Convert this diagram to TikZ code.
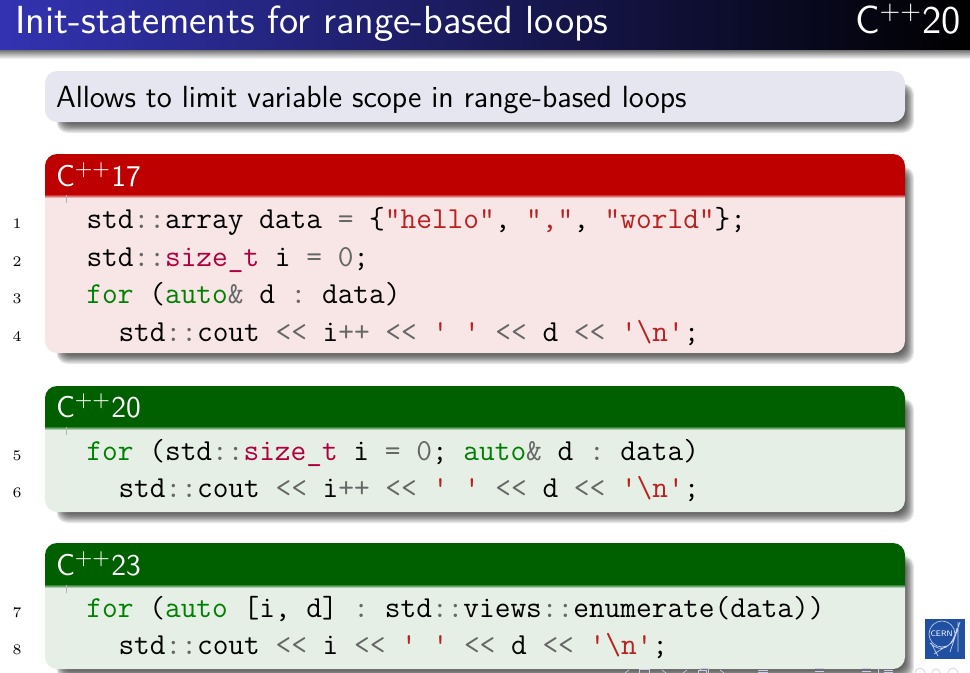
\documentclass[tikz,border=0pt]{standalone}
\definecolor{bluetitle}{RGB}{51,51,178}
\definecolor{blockbg}{RGB}{230,230,240}
\definecolor{redhead}{RGB}{191,0,0}
\definecolor{redbody}{RGB}{248,229,229}
\definecolor{greenhead}{RGB}{0,96,0}
\definecolor{greenbody}{RGB}{229,239,229}
\definecolor{kwcol}{RGB}{0,128,0}
\definecolor{tycol}{RGB}{176,0,64}
\definecolor{stcol}{RGB}{186,33,33}
\definecolor{opcol}{RGB}{102,102,102}
\definecolor{cernblue}{RGB}{33,80,162}
\definecolor{navcol}{RGB}{205,205,232}
\newcommand{\kw}[1]{\textcolor{kwcol}{#1}}
\newcommand{\ty}[1]{\textcolor{tycol}{#1}}
\newcommand{\st}[1]{\textcolor{stcol}{#1}}
\newcommand{\op}[1]{\textcolor{opcol}{#1}}
\newcommand{\cpp}[1]{C$^{++}$#1}
% shadow, then head and body of one block: y1,y2,y3, head colour, body colour
\newcommand{\blockshadow}[2]{\foreach \i in {0,1,...,9}{\fill[black,opacity=.1,rounded corners=4pt]
 (62-.6*\i,#1+18-.6*\i) rectangle (904+1.1*\i,#2+1.2*\i);}}
\newcommand{\codeblock}[5]{\blockshadow{#1}{#3}
 \fill[#5,rounded corners=4.5pt] (45,#2-8) rectangle (905,#3);
 \fill[#4,rounded corners=4.5pt] (45,#1) rectangle (905,#2);
 \fill[#4] (45,#2-14) rectangle (905,#2-1);
 \shade[top color=#4,bottom color=#5] (45,#2-1) rectangle (905,#2+3);
 \draw[black!30,line width=.2pt] (66,#2) -- (66,#2+8);}
\begin{document}
\begin{tikzpicture}
[x=.3755pt, y=-.3755pt, code/.style={anchor=base west,inner sep=0pt,font=\fontsize{11.45}{13}\ttfamily\frenchspacing},
num/.style={anchor=base,inner sep=0pt,font=\fontsize{5.5}{6}\rmfamily}, head/.style={anchor=base west,inner sep=0pt,white,font=\fontsize{11.3}{13}\sffamily},
ttl/.style={anchor=base west,inner sep=0pt,white,font=\fontsize{14.72}{16}\sffamily}, navsym/.style={navcol,line width=.25pt}]
\useasboundingbox (0,0) rectangle (970,673);
% title bar
\shade[left color=bluetitle,right color=black] (0,0) rectangle (970,50);
\shade[top color=black!55,bottom color=white] (0,50) rectangle (970,59);
\node(title) at (15,33.5)[ttl]{Init-statements for range-based loops};
\node(version) at (854.5,33.5)[ttl]{\cpp{20}};
% intro
\blockshadow{71}{122}
\fill[blockbg,rounded corners=4.5pt] (45,71) rectangle (905,122);
\node(intro) at (55.5,108)[head,black,font=\fontsize{11.5}{13}\sffamily]{Allows to limit variable scope in range-based loops};
% blocks
\codeblock{154}{195}{353}{redhead}{redbody}
\codeblock{386}{427}{512}{greenhead}{greenbody}
\codeblock{543}{585}{669}{greenhead}{greenbody}
\node(h17) at (55.5,186)[head]{\cpp{17}};\node(h20) at (55.5,417)[head]{\cpp{20}};\node(h23) at (55.5,575)[head]{\cpp{23}};
\node(n1) at (17,228)[num]{1};\node(n2) at (17,266)[num]{2};\node(n3) at (17,303)[num]{3};\node(n4) at (17,341)[num]{4};
\node(n5) at (17,460)[num]{5};\node(n6) at (17,497)[num]{6};\node(n7) at (17,617)[num]{7};\node(n8) at (17,654)[num]{8};
\node(c1) at (86,228)[code]{std\op{::}array data \op{=} \{\st{"hello"}, \st{","}, \st{"world"}\};};
\node(c2) at (86,266)[code]{std\op{::}\ty{size\textunderscore t} i \op{=} \op{0};};
\node(c3) at (86,303)[code]{\kw{for} (\kw{auto}\op{\&} d \op{:} data)};
\node(c4) at (118,341)[code]{std\op{::}cout \op{<<} i\op{++} \op{<<} \st{' '} \op{<<} d \op{<<} \st{'\textbackslash n'};};
\node(c5) at (86,460)[code]{\kw{for} (std\op{::}\ty{size\textunderscore t} i \op{=} \op{0}; \kw{auto}\op{\&} d \op{:} data)};
\node(c6) at (118,497)[code]{std\op{::}cout \op{<<} i\op{++} \op{<<} \st{' '} \op{<<} d \op{<<} \st{'\textbackslash n'};};
\node(c7) at (86,617)[code]{\kw{for} (\kw{auto} [i, d] \op{:} std\op{::}views\op{::}enumerate(data))};
\node(c8) at (118,654)[code]{std\op{::}cout \op{<<} i \op{<<} \st{' '} \op{<<} d \op{<<} \st{'\textbackslash n'};};
% navigation symbols, cut off by the page
\draw[navsym] (639,669) rectangle (649,673) (698,670) rectangle (706,673) (700,670) -- (700,668) -- (708,668) -- (708,673);
\draw[navsym] (625,673) -- (629,670) (662,670) -- (666,673) (683,673) -- (687,670) (720,670) -- (724,673);
\draw[navsym] (758,670) -- (768,670) (758,672) -- (768,672) (815,668) -- (824,668) (815,671) -- (824,671);
\draw[navsym] (862,668) -- (871,668) (862,671) -- (871,671) (878,668) -- (878,673) (884,670) -- (893,670) (884,672) -- (893,672);
\draw[navsym] (920,673) circle (5) (936,673) circle (4) (953,673) circle (5);
% logo
\fill[cernblue] (925,619) rectangle (965,659);
\draw[white!75!cernblue,line width=.25pt] (942,634) circle (13) (934,654) -- (945,647) (960,622) -- (950,652) (931,643) -- (938,656) (958,622) -- (958,652) (930,643) .. controls (942,654) and (952,648) .. (957,628);
\node(cern) at (941.5,634)[inner sep=0pt,white,font=\fontsize{3}{4}\sffamily]{CERN};
\end{tikzpicture}
\end{document}
